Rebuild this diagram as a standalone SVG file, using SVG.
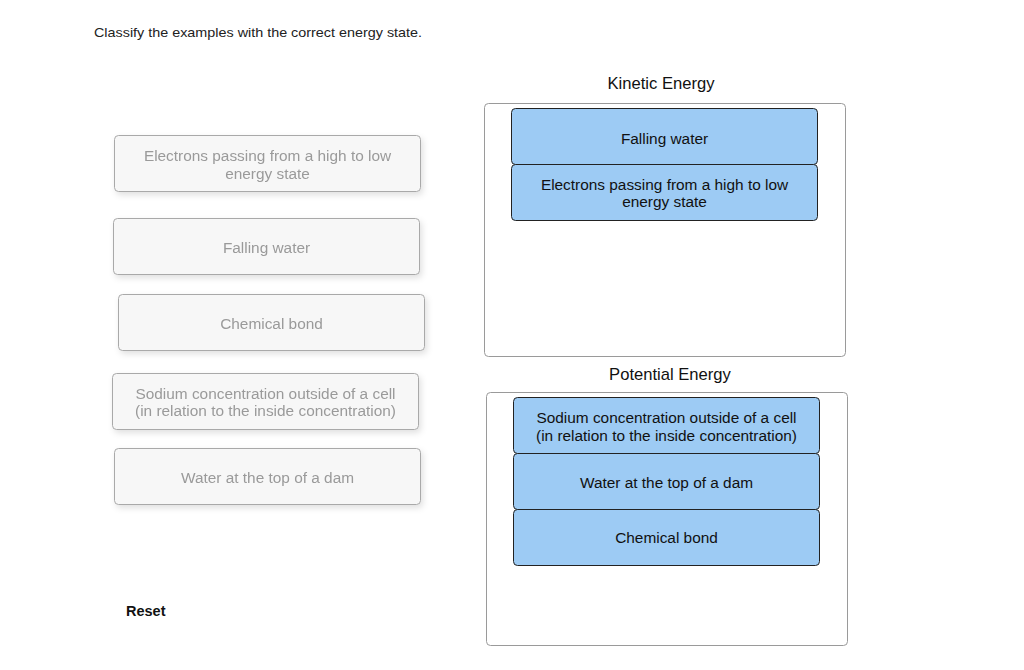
<svg xmlns="http://www.w3.org/2000/svg" width="1024" height="670" viewBox="0 0 1024 670">
<defs>
<filter id="sh" x="-5%" y="-20%" width="115%" height="150%">
<feDropShadow dx="2" dy="3" stdDeviation="3" flood-color="#000" flood-opacity="0.12"/>
</filter>
</defs>
<style>
text{font-family:"Liberation Sans",Arial,Helvetica,sans-serif;}
.src{fill:#f7f7f7;stroke:#a9a9a9;stroke-width:1;}
.srct{fill:#9a9a9a;font-size:15.4px;text-anchor:middle;}
.zone{fill:#fff;stroke:#9a9a9a;stroke-width:1;}
.ztitle{fill:#111;font-size:16.6px;text-anchor:middle;}
.item{fill:#9dcbf4;stroke:#222;stroke-width:1;}
.itemt{fill:#111;font-size:15.4px;text-anchor:middle;}
</style>
<rect width="1024" height="670" fill="#fff"/>
<text x="94" y="37" font-size="13.2" fill="#222" textLength="328" lengthAdjust="spacingAndGlyphs">Classify the examples with the correct energy state.</text>

<g id="src1" filter="url(#sh)">
<rect class="src" x="114.5" y="135.5" width="306" height="56" rx="4"/>
<text class="srct" x="267.5" y="161">Electrons passing from a high to low</text>
<text class="srct" x="267.5" y="178.5">energy state</text>
</g>
<g id="src2" filter="url(#sh)">
<rect class="src" x="113.5" y="218.5" width="306" height="56" rx="4"/>
<text class="srct" x="266.5" y="252.5">Falling water</text>
</g>
<g id="src3" filter="url(#sh)">
<rect class="src" x="118.5" y="294.5" width="306" height="56" rx="4"/>
<text class="srct" x="271.5" y="328.5">Chemical bond</text>
</g>
<g id="src4" filter="url(#sh)">
<rect class="src" x="112.5" y="373.5" width="306" height="56" rx="4"/>
<text class="srct" x="265.5" y="398.5">Sodium concentration outside of a cell</text>
<text class="srct" x="265.5" y="416">(in relation to the inside concentration)</text>
</g>
<g id="src5" filter="url(#sh)">
<rect class="src" x="114.5" y="448.5" width="306" height="56" rx="4"/>
<text class="srct" x="267.5" y="482.5">Water at the top of a dam</text>
</g>

<g id="reset">
<text x="126" y="616" font-size="14.5" font-weight="bold" fill="#111">Reset</text>
</g>

<g id="kinetic">
<text class="ztitle" x="661" y="88.5">Kinetic Energy</text>
<rect class="zone" x="484.5" y="103.5" width="361" height="253" rx="4"/>
</g>
<g id="k1">
<rect class="item" x="511.5" y="108.5" width="306" height="56" rx="4"/>
<text class="itemt" x="664.5" y="143.5">Falling water</text>
</g>
<g id="k2">
<rect class="item" x="511.5" y="164.5" width="306" height="56" rx="4"/>
<text class="itemt" x="664.5" y="189.5">Electrons passing from a high to low</text>
<text class="itemt" x="664.5" y="207">energy state</text>
</g>

<g id="potential">
<text class="ztitle" x="670" y="380">Potential Energy</text>
<rect class="zone" x="486.5" y="392.5" width="361" height="253" rx="4"/>
</g>
<g id="p1">
<rect class="item" x="513.5" y="397.5" width="306" height="56" rx="4"/>
<text class="itemt" x="666.5" y="423">Sodium concentration outside of a cell</text>
<text class="itemt" x="666.5" y="441">(in relation to the inside concentration)</text>
</g>
<g id="p2">
<rect class="item" x="513.5" y="453.5" width="306" height="56" rx="4"/>
<text class="itemt" x="666.5" y="488">Water at the top of a dam</text>
</g>
<g id="p3">
<rect class="item" x="513.5" y="509.5" width="306" height="56" rx="4"/>
<text class="itemt" x="666.5" y="543">Chemical bond</text>
</g>
<g id="connectors"></g>
</svg>
